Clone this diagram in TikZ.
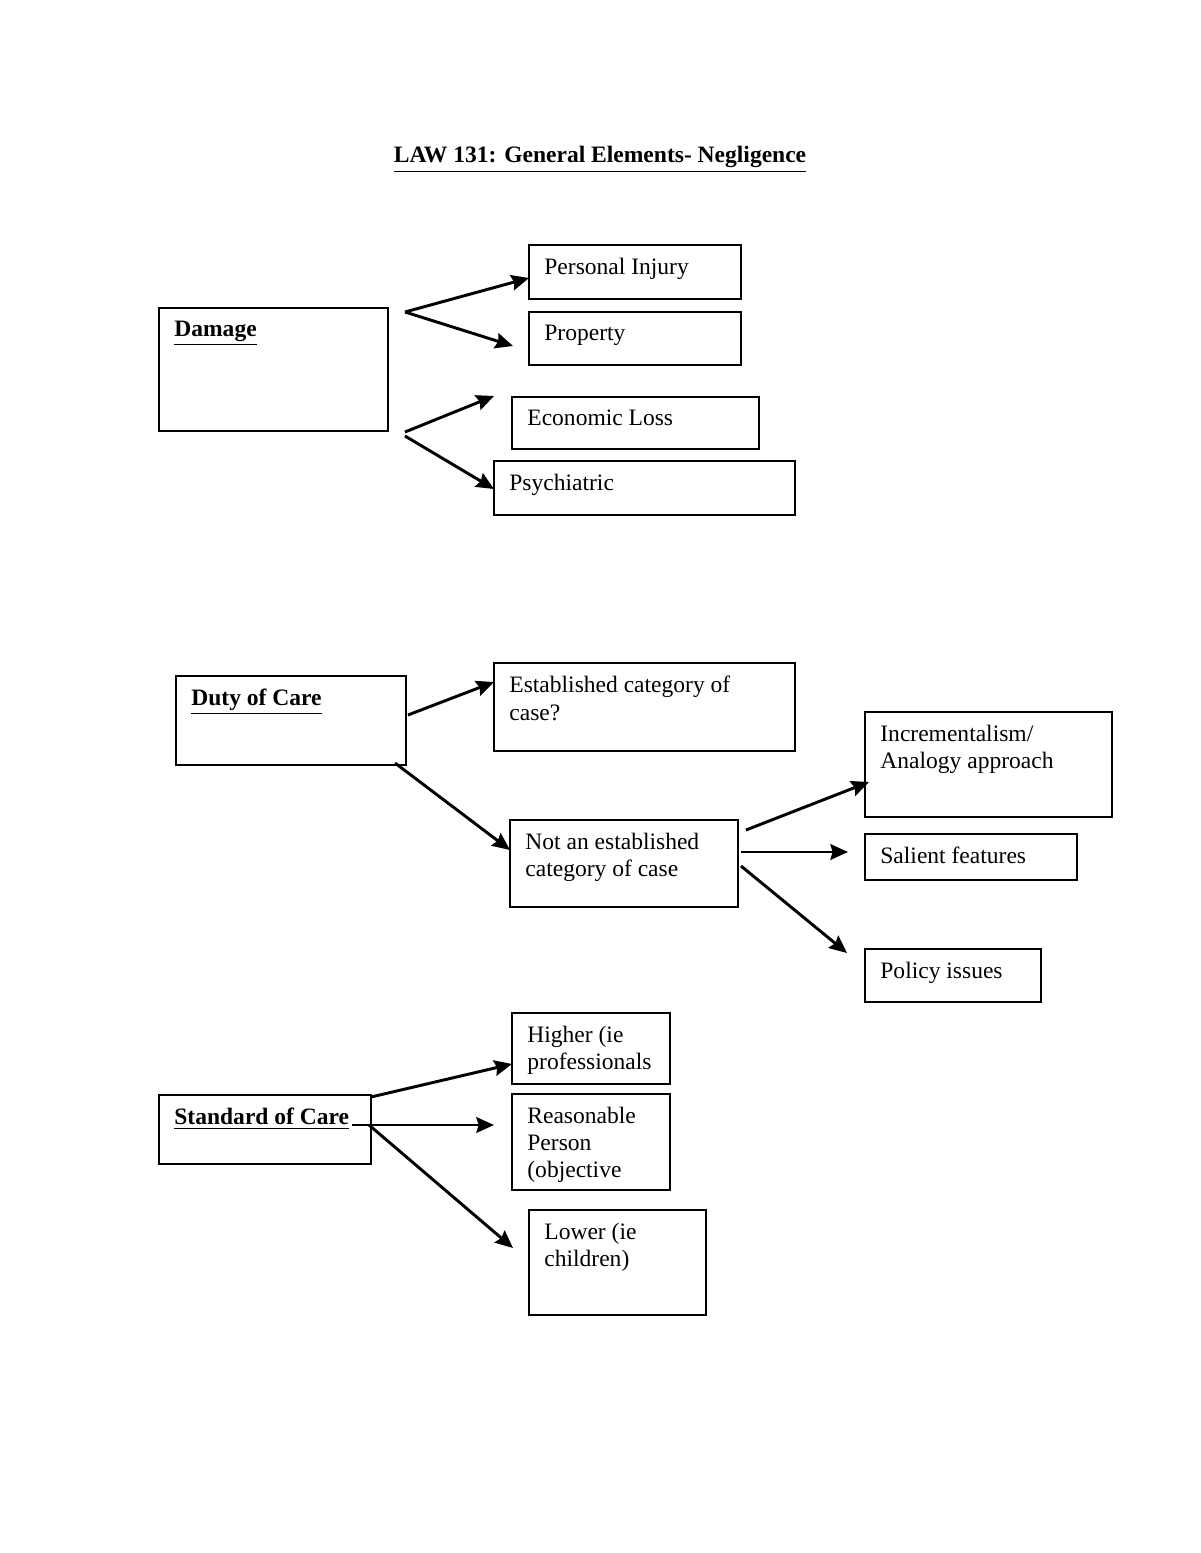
\documentclass[tikz,border=0pt]{standalone}
\usepackage{fontspec}
\setmainfont{Liberation Serif}
\usetikzlibrary{arrows.meta}
\newcommand\mkbox[6]{%
  \node[box,minimum width={(#4-#2)*0.51pt},minimum height={(#5-#3)*0.51pt}] (#1) at (#2,#3) {};
  \node[txt] (#1t) at ({#2+15},{#3+13}) {#6};}
\newcommand\ul[1]{\underline{#1}}
\begin{document}
\begin{tikzpicture}[x=0.51pt,y=-0.51pt,
  box/.style={draw,line width=1.4pt,anchor=north west,inner sep=0pt,outer sep=0pt},
  txt/.style={anchor=north west,inner sep=0pt,align=left,font=\fontsize{12}{13.8}\selectfont},
  arr/.style={line width=1.5pt,-{Stealth[length=9pt,width=8pt,inset=1.2pt]}}]
\useasboundingbox[fill=white] (0,0) rectangle (1200,1553);

\node[anchor=base,inner sep=0pt,font=\fontsize{12}{13.8}\selectfont\bfseries] (title) at (600,163) {\ul{LAW 131: General Elements- Negligence}};

% Damage
\mkbox{dam}{159}{308}{388}{431}{\textbf{\ul{Damage}}}
\mkbox{pi}{529}{245}{741}{299}{Personal Injury}
\mkbox{prop}{529}{312}{741}{365}{Property}
\mkbox{econ}{512}{397}{759}{449}{Economic Loss}
\mkbox{psy}{494}{461}{795}{515}{Psychiatric}

\coordinate (da) at (405,312);
\coordinate (da1) at (529,278);
\coordinate (da2) at (513,346);
\coordinate (db) at (405,432);
\coordinate (db1) at (494,396);
\coordinate (dc) at (405,436);
\coordinate (dc1) at (494,489);
\draw[arr] (da) -- (da1);
\draw[arr] (da) -- (da2);
\draw[arr] (db) -- (db1);
\draw[arr] (dc) -- (dc1);

% Duty of care
\mkbox{duty}{176}{676}{406}{765}{\textbf{\ul{Duty of Care}}}
\mkbox{est}{494}{663}{795}{751}{Established category of\\case?}
\mkbox{nest}{510}{820}{738}{907}{Not an established\\category of case}
\mkbox{inc}{865}{712}{1112}{817}{Incrementalism/\\Analogy approach}
\mkbox{sal}{865}{834}{1077}{880}{Salient features}
\mkbox{pol}{865}{949}{1041}{1002}{Policy issues}

\coordinate (ua) at (408,715);
\coordinate (ua1) at (494,682);
\coordinate (ub) at (395,763);
\coordinate (ub1) at (510,850);
\coordinate (na) at (746,830);
\coordinate (na1) at (869,782);
\coordinate (nb) at (741,852);
\coordinate (nb1) at (848,852);
\coordinate (nc) at (741,866);
\coordinate (nc1) at (847,953);
\draw[arr] (ua) -- (ua1);
\draw[arr] (ub) -- (ub1);
\draw[arr] (na) -- (na1);
\draw[arr] (nb) -- (nb1);
\draw[arr] (nc) -- (nc1);

% Standard of care
\mkbox{std}{159}{1095}{371}{1164}{\textbf{\ul{Standard of Care}}}
\mkbox{hi}{512}{1013}{670}{1084}{Higher (ie\\professionals}
\mkbox{rea}{512}{1094}{670}{1190}{Reasonable\\Person\\(objective}
\mkbox{low}{529}{1210}{706}{1315}{Lower (ie\\children)}

\coordinate (sa) at (371,1097);
\coordinate (sa1) at (512,1064);
\coordinate (sb) at (352,1125);
\coordinate (sb1) at (494,1125);
\coordinate (sc) at (369,1125);
\coordinate (sc1) at (513,1248);
\draw[arr] (sa) -- (sa1);
\draw[arr] (sb) -- (sb1);
\draw[arr] (sc) -- (sc1);
\end{tikzpicture}
\end{document}
